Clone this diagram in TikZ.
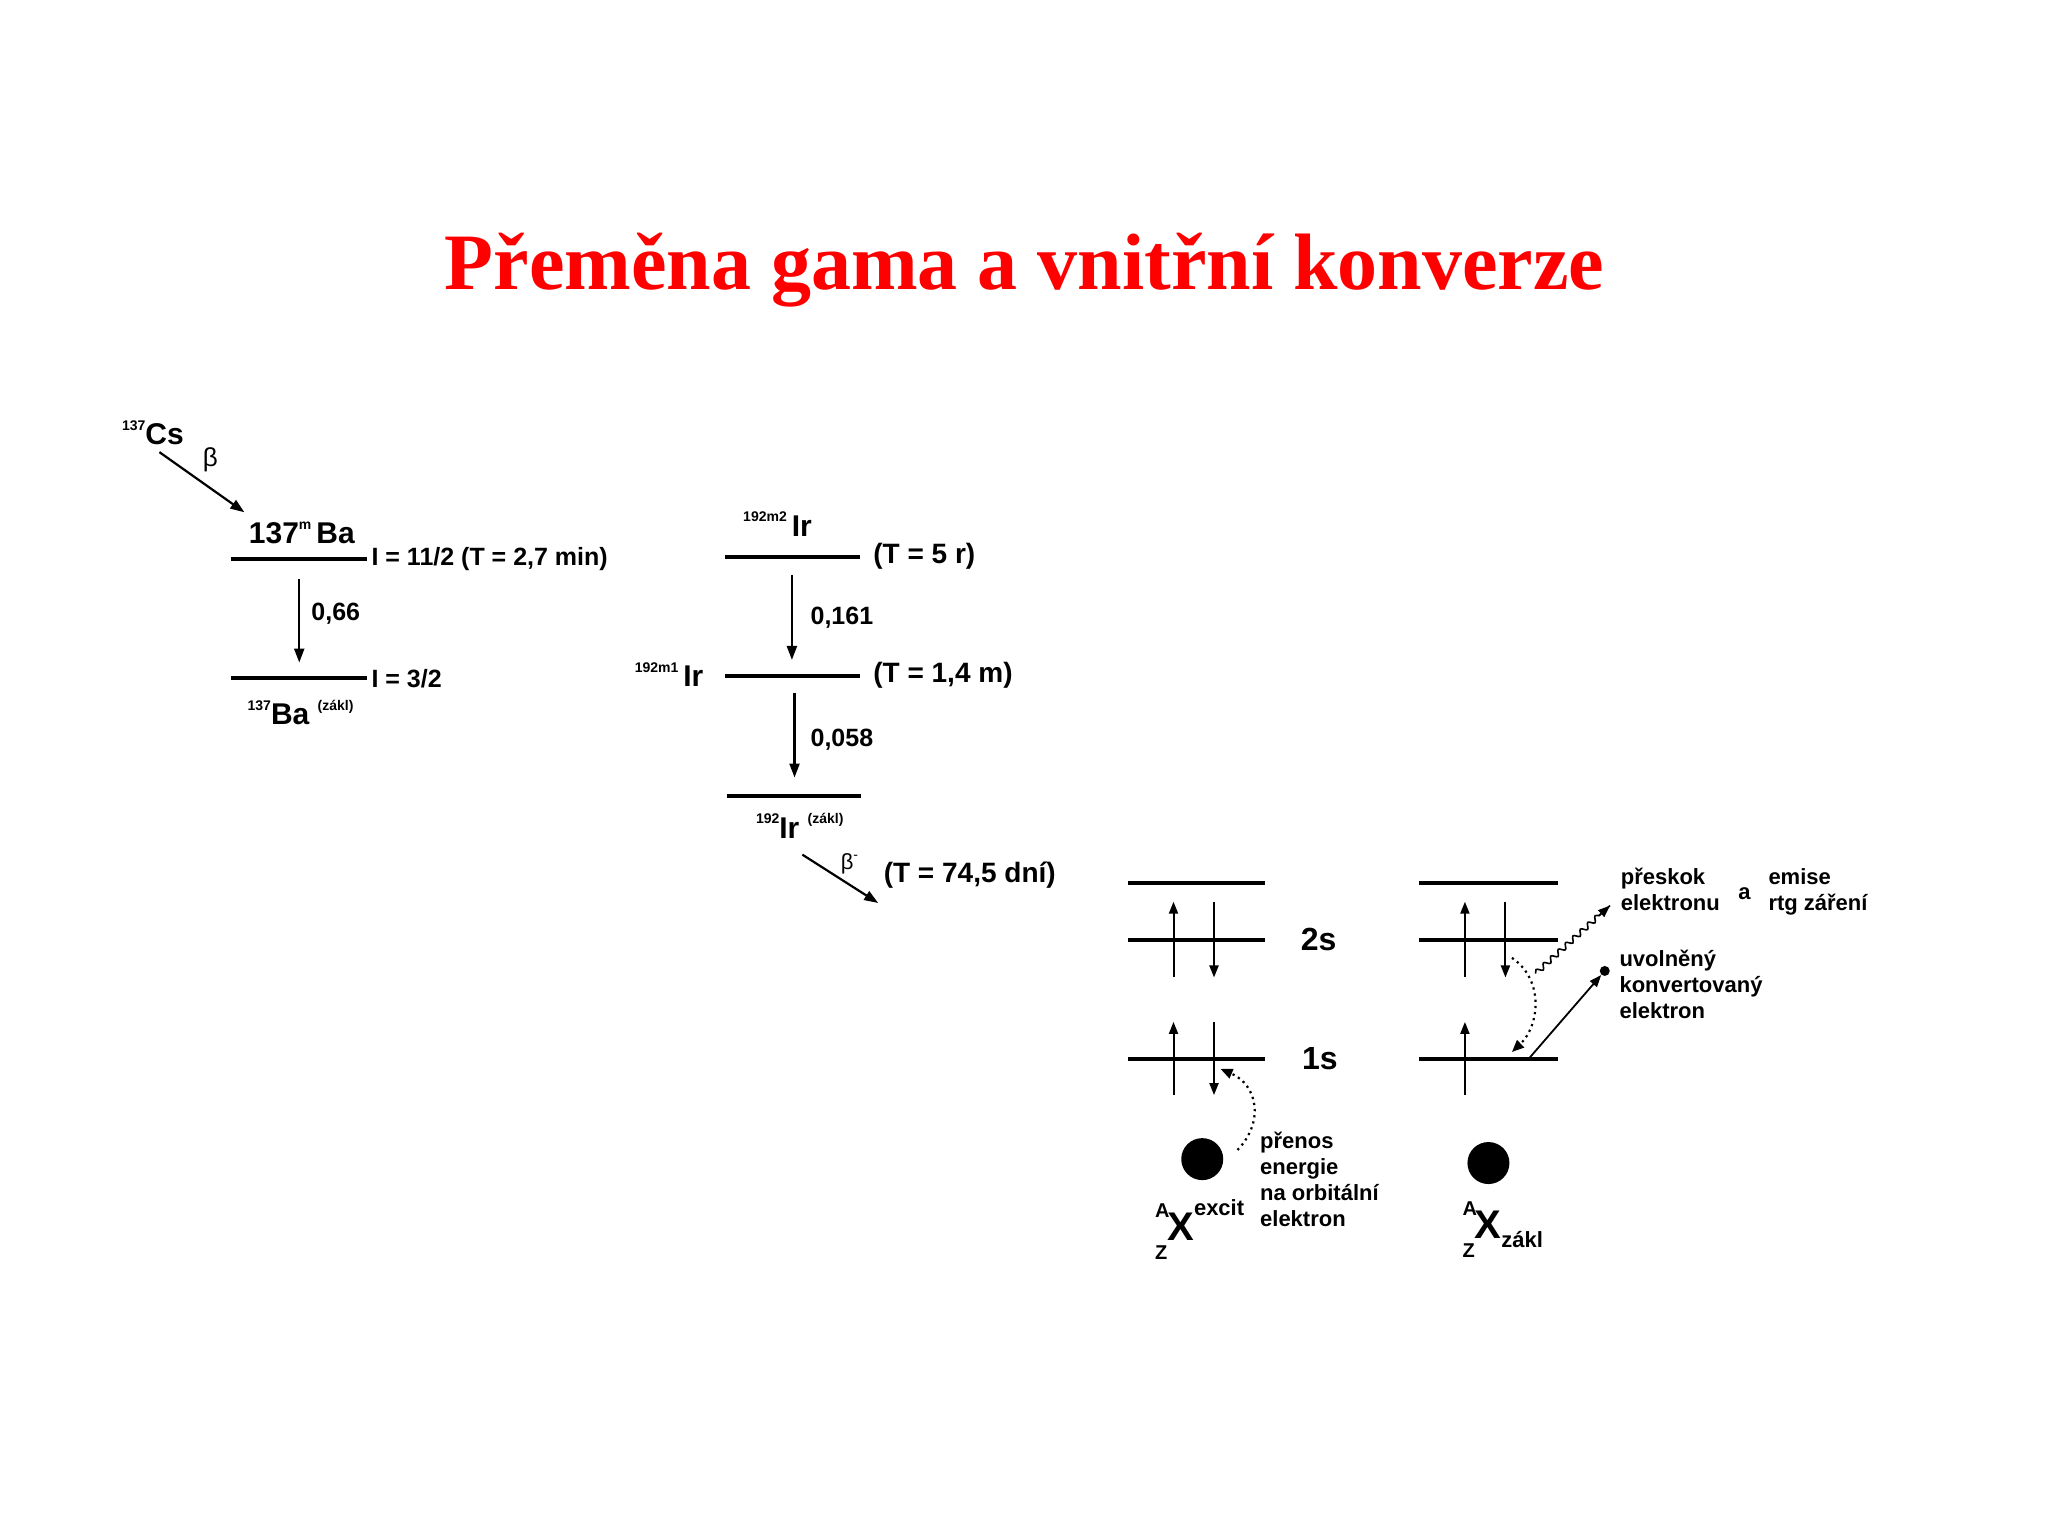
\documentclass[tikz,border=0pt]{standalone}
\usepackage{fontspec}
\setmainfont{Liberation Sans}
\newfontfamily\titlefont{Liberation Serif}
\usetikzlibrary{arrows.meta,decorations.pathmorphing,calc}
\newcommand{\sups}[1]{\raisebox{0.9ex}{\fontsize{7}{8}\selectfont #1}}
\newcommand{\AZ}{\makebox[0pt][l]{\raisebox{1.1ex}{\fontsize{10}{10}\selectfont A}}\raisebox{-0.9ex}{\fontsize{10}{10}\selectfont Z}}
\begin{document}
\begin{tikzpicture}[x=0.6534pt,y=-0.6534pt,
  lvl/.style={line width=2pt},
  tr/.style={line width=1.1pt,-{Triangle[length=7pt,width=5pt]}},
  spin/.style={line width=1pt,-{Triangle[length=6pt,width=4.5pt]}},
  lab/.style={font=\bfseries\fontsize{12.5}{14}\selectfont,inner sep=0pt},
  slab/.style={font=\bfseries\fontsize{11}{13}\selectfont,inner sep=0pt,align=left},
  dotl/.style={line width=1.1pt,dotted}]
\useasboundingbox[fill=white] (0,0) rectangle (1567.2,1175.4);
\node[text=red,font=\titlefont\bfseries\fontsize{40}{44}\selectfont] (title) at (784,207) {Přeměna gama a vnitřní konverze};
% Cs / Ba
\node[lab,font=\bfseries\fontsize{15}{16}\selectfont] (cs) at (117,331) {\sups{137}Cs};
\node[font=\fontsize{13}{14}\selectfont] (beta1) at (161,352) {β};
\coordinate (csa) at (122,346);
\coordinate (csb) at (187,392);
\draw[tr] (csa) -- (csb);
\node[lab,font=\bfseries\fontsize{15}{16}\selectfont] (bam) at (231,408) {137\sups{m}\,Ba};
\coordinate (l1a) at (177,428); \coordinate (l1b) at (281,428);
\draw[lvl] (l1a) -- (l1b);
\node[lab,anchor=west] (l1t) at (284,428) {I = 11/2 (T = 2,7 min)};
\coordinate (a1a) at (229,443); \coordinate (a1b) at (229,507);
\draw[tr] (a1a) -- (a1b);
\node[lab,anchor=west] (e1) at (238,470) {0,66};
\coordinate (l2a) at (177,519); \coordinate (l2b) at (281,519);
\draw[lvl] (l2a) -- (l2b);
\node[lab,anchor=west] (l2t) at (284,519) {I = 3/2};
\node[lab,font=\bfseries\fontsize{15}{16}\selectfont] (ba) at (230,545) {\sups{137}Ba \sups{(zákl)}};
% Ir
\node[lab,font=\bfseries\fontsize{15}{16}\selectfont] (ir2) at (595,401) {\sups{192m2}\,Ir};
\coordinate (lAa) at (555,426); \coordinate (lAb) at (658,426);
\draw[lvl] (lAa) -- (lAb);
\node[lab,anchor=west,font=\bfseries\fontsize{14}{16}\selectfont] (tA) at (668,426) {(T = 5 r)};
\coordinate (aAa) at (606,440); \coordinate (aAb) at (606,505);
\draw[tr] (aAa) -- (aAb);
\node[lab,anchor=west] (eA) at (620,473) {0,161};
\node[lab,font=\bfseries\fontsize{15}{16}\selectfont] (ir1) at (512,516) {\sups{192m1}\,Ir};
\coordinate (lBa) at (555,517); \coordinate (lBb) at (658,517);
\draw[lvl] (lBa) -- (lBb);
\node[lab,anchor=west,font=\bfseries\fontsize{14}{16}\selectfont] (tB) at (668,517) {(T = 1,4 m)};
\coordinate (aBa) at (608,530); \coordinate (aBb) at (608,595);
\draw[tr] (aBa) -- (aBb);
\node[lab,anchor=west] (eB) at (620,566) {0,058};
\coordinate (lCa) at (556,609); \coordinate (lCb) at (659,609);
\draw[lvl] (lCa) -- (lCb);
\node[lab,font=\bfseries\fontsize{15}{16}\selectfont] (ir0) at (612,632) {\sups{192}Ir \sups{(zákl)}};
\coordinate (bCa) at (614,654); \coordinate (bCb) at (672,691);
\draw[tr] (bCa) -- (bCb);
\node[font=\fontsize{11}{12}\selectfont] (beta2) at (650,661) {β\sups{-}};
\node[lab,anchor=west,font=\bfseries\fontsize{14}{16}\selectfont] (tC) at (676,670) {(T = 74,5 dní)};
% left atom
\foreach \y/\n in {676/t,719/m,810/b}{
  \coordinate (L\n a) at (863,\y); \coordinate (L\n b) at (968,\y);
  \draw[lvl] (L\n a) -- (L\n b);}
\coordinate (u1a) at (898,748); \coordinate (u1b) at (898,690); \draw[spin] (u1a) -- (u1b);
\coordinate (d1a) at (929,690); \coordinate (d1b) at (929,748); \draw[spin] (d1a) -- (d1b);
\coordinate (u2a) at (898,838); \coordinate (u2b) at (898,782); \draw[spin] (u2a) -- (u2b);
\coordinate (d2a) at (929,782); \coordinate (d2b) at (929,838); \draw[spin] (d2a) -- (d2b);
\node[font=\bfseries\fontsize{16}{18}\selectfont] (s2) at (1009,719) {2s};
\node[font=\bfseries\fontsize{16}{18}\selectfont] (s1) at (1010,810) {1s};
\node[circle,fill=black,minimum size=21pt,inner sep=0pt] (nucL) at (920,887) {};
\coordinate (dLa) at (947,880); \coordinate (dLb) at (934,818);
\draw[dotl,-{Triangle[length=6pt,width=5pt]}] (dLa) .. controls (968,858) and (962,830) .. (dLb);
\node[slab,anchor=north west] (pren) at (964,866) {přenos\\energie\\na orbitální\\elektron};
\node[font=\bfseries\fontsize{20}{22}\selectfont,inner sep=0pt] (xL) at (918,941) {\AZ X\raisebox{1.2ex}{\fontsize{11}{12}\selectfont excit}};
% right atom
\foreach \y/\n in {676/t,719/m,810/b}{
  \coordinate (R\n a) at (1086,\y); \coordinate (R\n b) at (1192,\y);
  \draw[lvl] (R\n a) -- (R\n b);}
\coordinate (u3a) at (1121,748); \coordinate (u3b) at (1121,690); \draw[spin] (u3a) -- (u3b);
\coordinate (d3a) at (1152,690); \coordinate (d3b) at (1152,748); \draw[spin] (d3a) -- (d3b);
\coordinate (u4a) at (1121,838); \coordinate (u4b) at (1121,782); \draw[spin] (u4a) -- (u4b);
\node[circle,fill=black,minimum size=21pt,inner sep=0pt] (nucR) at (1139,890) {};
\node[font=\bfseries\fontsize{20}{22}\selectfont,inner sep=0pt] (xR) at (1150,941) {\AZ X\raisebox{-0.4ex}{\fontsize{11}{12}\selectfont zákl}};
\coordinate (dRa) at (1157,733); \coordinate (dRb) at (1157,805);
\draw[dotl,-{Triangle[length=6pt,width=5pt]}] (dRa) .. controls (1182,750) and (1178,785) .. (dRb);
\node[circle,fill=black,minimum size=5pt,inner sep=0pt] (el) at (1228,743) {};
\coordinate (eRa) at (1170,810);
\draw[line width=0.9pt,-{Triangle[length=6pt,width=4.5pt]}] (eRa) -- (el);
\coordinate (wa) at (1175,745); \coordinate (wb) at (1232,693);
\draw[line width=0.8pt,decorate,decoration={snake,amplitude=1.3pt,segment length=5pt,post length=6pt}] (wa) -- (wb);
\draw[line width=0.8pt,-{Triangle[length=6pt,width=4.5pt]}] ($(wa)!0.85!(wb)$) -- (wb);
\node[slab,anchor=north west] (presk) at (1240,664) {přeskok\\elektronu};
\node[slab] (a) at (1335,684) {a};
\node[slab,anchor=north west] (emise) at (1353,664) {emise\\rtg záření};
\node[slab,anchor=north west] (uvol) at (1239,727) {uvolněný\\konvertovaný\\elektron};
\end{tikzpicture}
\end{document}
